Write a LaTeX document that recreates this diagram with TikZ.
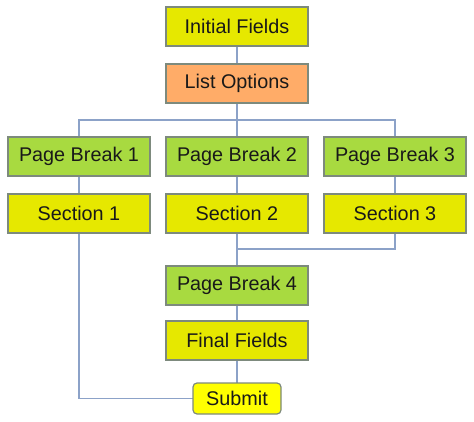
\documentclass[tikz,border=0pt]{standalone}
\usepackage{fontspec}
\setmainfont{Liberation Sans}
\usetikzlibrary{backgrounds,positioning}
\pgfdeclarelayer{edgelayer}
\pgfdeclarelayer{nodelayer}
\pgfsetlayers{edgelayer,nodelayer,main}
\definecolor{fieldyellow}{RGB}{230,232,0}
\definecolor{breakgreen}{RGB}{168,218,64}
\definecolor{listorange}{RGB}{255,172,104}
\definecolor{submityellow}{RGB}{255,255,0}
\definecolor{boxgrey}{RGB}{125,138,125}
\definecolor{wireblue}{RGB}{140,162,200}
\tikzset{font=\fontsize{19.8}{24}\selectfont}
\tikzstyle{none}=[inner sep=0pt]
\tikzstyle{box}=[rectangle,draw=boxgrey,line width=1.2pt,minimum width=142pt,minimum height=39pt,inner sep=0pt,text=black!90]
\tikzstyle{fields}=[box,fill=fieldyellow]
\tikzstyle{pagebreak}=[box,fill=breakgreen]
\tikzstyle{options}=[box,fill=listorange]
\tikzstyle{submit}=[box,fill=submityellow,rounded corners=4pt,minimum width=88pt,minimum height=31pt]
\tikzstyle{wire}=[draw=wireblue,line width=1.5pt]

\begin{document}
\begin{tikzpicture}[x=1pt,y=-1pt]
	\useasboundingbox (0,0) rectangle (474,422);
	\begin{pgfonlayer}{nodelayer}
		\node [style=fields] (0) at (237, 26.5) {Initial Fields};
		\node [style=options] (1) at (237, 83.5) {List Options};
		\node [style=pagebreak] (2) at (79, 156.5) {Page Break 1};
		\node [style=pagebreak] (3) at (237, 156.5) {Page Break 2};
		\node [style=pagebreak] (4) at (395, 156.5) {Page Break 3};
		\node [style=fields] (5) at (79, 213.5) {Section 1};
		\node [style=fields] (6) at (237, 213.5) {Section 2};
		\node [style=fields] (7) at (395, 213.5) {Section 3};
		\node [style=pagebreak] (8) at (237, 285.5) {Page Break 4};
		\node [style=fields] (9) at (237, 340.5) {Final Fields};
		\node [style=submit] (10) at (237, 398.5) {Submit};
		\coordinate (split) at (237, 120);
		\coordinate (join) at (237, 249);
	\end{pgfonlayer}
	\begin{pgfonlayer}{edgelayer}
		\draw[style=wire] (0.center) to (1.center);
		\draw[style=wire] (1.center) to (split);
		\draw[style=wire] (split) -| (2.center);
		\draw[style=wire] (split) -| (4.center);
		\draw[style=wire] (split) to (3.center);
		\draw[style=wire] (2.center) to (5.center);
		\draw[style=wire] (3.center) to (6.center);
		\draw[style=wire] (4.center) to (7.center);
		\draw[style=wire] (6.center) to (8.center);
		\draw[style=wire] (7.center) |- (join);
		\draw[style=wire] (8.center) to (9.center);
		\draw[style=wire] (9.center) to (10.center);
		\draw[style=wire] (5.center) |- (10.center);
	\end{pgfonlayer}
\end{tikzpicture}
\end{document}
